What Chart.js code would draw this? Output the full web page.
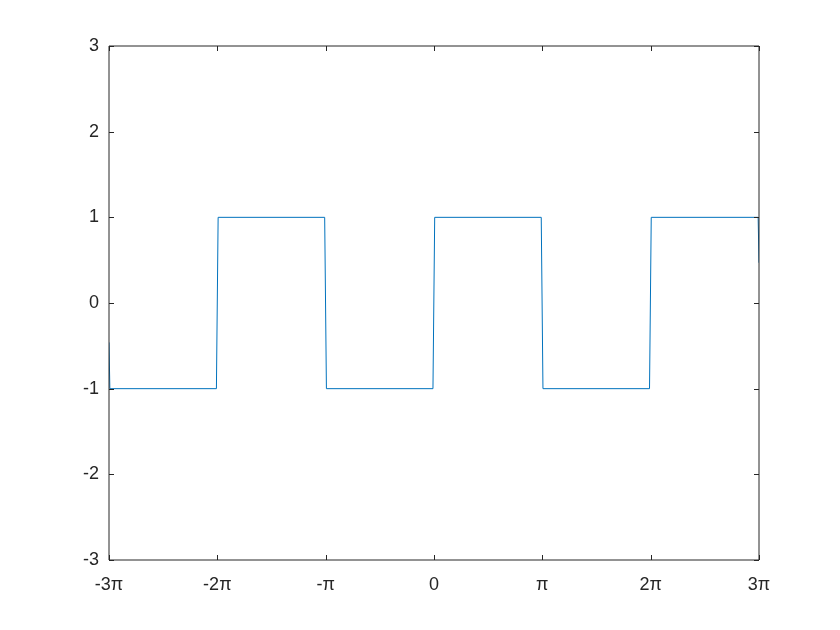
<!DOCTYPE html>
<html>
<head>
<meta charset="utf-8">
<script src="https://cdn.jsdelivr.net/npm/chart.js@4/dist/chart.umd.min.js"></script>
<style>
  html, body { margin: 0; padding: 0; background: #fff; }
  #wrap { width: 840px; height: 630px; }
</style>
</head>
<body>
<div id="wrap"><canvas id="myChart"></canvas></div>
<script>
// corner points of the square wave (x in radians)
const xValues = [-9.4248, -9.40, -6.31, -6.26, -3.17, -3.12, -0.03, 0.02, 3.11, 3.16, 6.25, 6.30, 9.40, 9.4248];
const yValues = [-0.46, -1, -1, 1, 1, -1, -1, 1, 1, -1, -1, 1, 1, 0.47];

// tick positions and labels
const xTicks = [-9.42478, -6.28319, -3.14159, 0, 3.14159, 6.28319, 9.42478];
const xTickLabels = ['-3\u03c0', '-2\u03c0', '-\u03c0', '0', '\u03c0', '2\u03c0', '3\u03c0'];
const yTicks = [-3, -2, -1, 0, 1, 2, 3];

const axisColor = '#262626';

// box round the plot with inward ticks on all four sides
const boxPlugin = {
    id: 'box',
    afterDraw(chart) {
        const { ctx, chartArea: a, scales } = chart;
        const len = 5;
        ctx.save();
        ctx.strokeStyle = axisColor;
        ctx.lineWidth = 1;
        ctx.beginPath();
        ctx.rect(a.left, a.top, a.right - a.left, a.bottom - a.top);
        xTicks.forEach(v => {
            const px = Math.round(scales.x.getPixelForValue(v)) + 0.5;
            ctx.moveTo(px, a.bottom); ctx.lineTo(px, a.bottom - len);
            ctx.moveTo(px, a.top); ctx.lineTo(px, a.top + len);
        });
        yTicks.forEach(v => {
            const py = Math.round(scales.y.getPixelForValue(v)) + 0.5;
            ctx.moveTo(a.left, py); ctx.lineTo(a.left + len, py);
            ctx.moveTo(a.right, py); ctx.lineTo(a.right - len, py);
        });
        ctx.stroke();
        ctx.restore();
    }
};

const ctx = document.getElementById('myChart').getContext('2d');
const myChart = new Chart(ctx, {
    type: 'scatter',
    data: {
        datasets: [{
            data: xValues.map((x, i) => ({ x: x, y: yValues[i] })),
            showLine: true,
            borderColor: '#0072BD',
            borderWidth: 1,
            pointRadius: 0,
            fill: false,
            tension: 0,
        }],
    },
    options: {
        responsive: true,
        maintainAspectRatio: false,
        animation: false,
        layout: { padding: { top: 46, right: 81, left: 0, bottom: 0 } },
        plugins: { legend: { display: false }, tooltip: { enabled: false } },
        scales: {
            x: {
                type: 'linear',
                min: -3 * Math.PI,
                max: 3 * Math.PI,
                afterBuildTicks: (scale) => { scale.ticks = xTicks.map(v => ({ value: v })); },
                afterFit: (scale) => { scale.height = 70; },
                grid: { display: false, drawTicks: false },
                border: { display: false },
                ticks: {
                    color: axisColor,
                    padding: 14,
                    maxRotation: 0,
                    autoSkip: false,
                    font: { family: 'Liberation Sans, Arial, sans-serif', size: 18 },
                    callback: (v, i) => xTickLabels[i],
                },
            },
            y: {
                min: -3,
                max: 3,
                afterBuildTicks: (scale) => { scale.ticks = yTicks.map(v => ({ value: v })); },
                afterFit: (scale) => { scale.width = 109; },
                grid: { display: false, drawTicks: false },
                border: { display: false },
                ticks: {
                    color: axisColor,
                    padding: 10,
                    autoSkip: false,
                    font: { family: 'Liberation Sans, Arial, sans-serif', size: 18 },
                },
            },
        },
    },
    plugins: [boxPlugin],
});
</script>
</body>
</html>
